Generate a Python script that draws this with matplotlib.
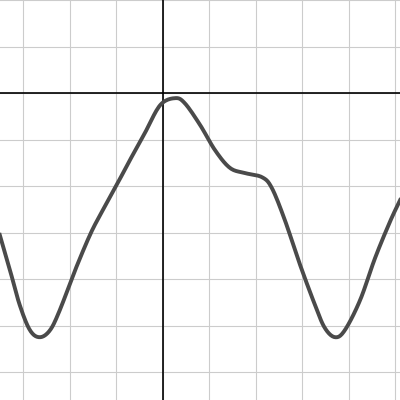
import matplotlib
matplotlib.use("Agg")
import matplotlib.pyplot as plt
import numpy as np

xs = [-3.51,-3.29,-3.08,-2.86,-2.65,-2.43,-2.22,-1.89,-1.57,-1.35,-1.03,-0.71,-0.39,-0.06,0.26,0.47,0.80,1.12,1.44,1.76,2.13,2.34,2.62,2.95,3.27,3.48,3.70,3.91,4.24,4.56,4.88,5.10]
ys = [-3.05,-3.81,-4.56,-5.10,-5.25,-5.10,-4.67,-3.81,-3.05,-2.62,-2.04,-1.44,-0.86,-0.26,-0.11,-0.22,-0.69,-1.23,-1.61,-1.72,-1.81,-2.04,-2.73,-3.70,-4.56,-5.05,-5.25,-5.10,-4.45,-3.55,-2.77,-2.30]

def catmull(x, y, n=12):
    p = np.column_stack([x, y])
    p = np.vstack([2*p[0]-p[1], p, 2*p[-1]-p[-2]])
    out = []
    t = np.linspace(0, 1, n, endpoint=False)[:, None]
    for i in range(1, len(p)-2):
        p0, p1, p2, p3 = p[i-1], p[i], p[i+1], p[i+2]
        out.append(0.5*((2*p1) + (-p0+p2)*t + (2*p0-5*p1+4*p2-p3)*t**2 + (-p0+3*p1-3*p2+p3)*t**3))
    out.append(p[-2][None, :])
    o = np.vstack(out)
    return o[:, 0], o[:, 1]

fig = plt.figure(figsize=(4, 4), dpi=100)
ax = fig.add_axes([0, 0, 1, 1])
ax.set_xlim(-3.505, 5.097)
ax.set_ylim(-6.6, 2.0)
for v in range(-4, 6):
    ax.axvline(v, color="#cccccc", lw=0.8, zorder=0)
for v in range(-7, 3):
    ax.axhline(v, color="#cccccc", lw=0.8, zorder=0)
ax.axvline(0, color="black", lw=1.2, zorder=1)
ax.axhline(0, color="black", lw=1.2, zorder=1)
cx, cy = catmull(xs, ys)
ax.plot(cx, cy, color="#4a4a4a", lw=2.8, solid_joinstyle="round", zorder=2)
ax.set_xticks([]); ax.set_yticks([])
for s in ax.spines.values():
    s.set_visible(False)
fig.savefig("out.png")
